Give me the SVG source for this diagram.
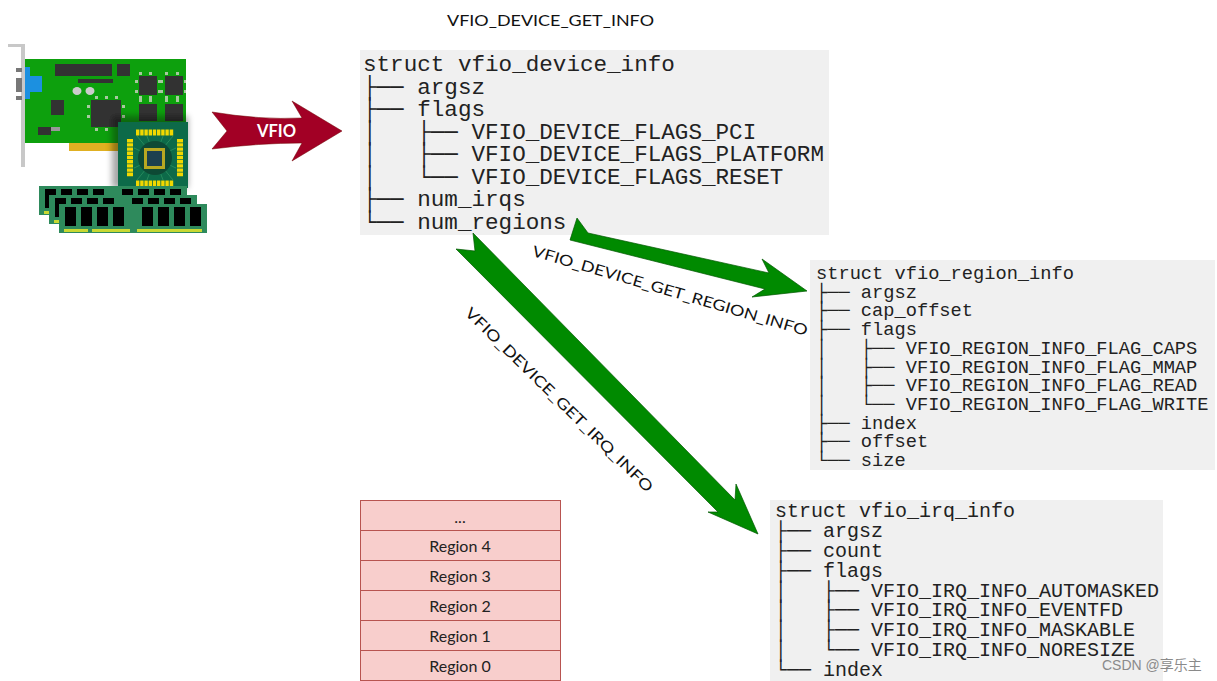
<svg xmlns="http://www.w3.org/2000/svg" width="1217" height="681" viewBox="0 0 1217 681">
<style>
.bg{fill:#f0f0f0}
.t{font-family:"Liberation Mono","DejaVu Sans Mono",monospace;fill:#222}
.d{font-size:22.6px}.r{font-size:18.7px}.i{font-size:20px}
.h{font-family:"Lato","Open Sans",sans-serif;font-size:15px;fill:#111}
.ra{fill:#f8cecc;stroke:#b85450;stroke-width:1}
.rt{font-family:"Lato","Open Sans",sans-serif;font-size:16px;fill:#222;text-anchor:middle}
.g{fill:#008a00;stroke:#005700;stroke-width:.7}
.cb{fill:#333}
.rs{fill:#2f8a5c}
.rk{fill:#000}
.rg{fill:#c8d832}
</style>
<defs>
<filter id="sh" x="-20%" y="-20%" width="140%" height="140%"><feGaussianBlur stdDeviation="3"/></filter>
<filter id="soft" x="-5%" y="-5%" width="110%" height="110%"><feGaussianBlur stdDeviation=".5"/></filter>
<g id="ramc">
<rect x="0" y="0" width="148" height="29" class="rs"/>
<g class="rk"><rect x="6" y="3" width="11" height="19"/><rect x="22" y="3" width="11" height="19"/><rect x="38" y="3" width="11" height="19"/><rect x="54" y="3" width="11" height="19"/><rect x="83" y="3" width="11" height="19"/><rect x="99" y="3" width="11" height="19"/><rect x="115" y="3" width="11" height="19"/><rect x="131" y="3" width="11" height="19"/></g>
<rect x="5" y="25" width="24" height="3" class="rg"/><rect x="33" y="25" width="38" height="3" class="rg"/><rect x="78" y="25" width="65" height="3" class="rg"/>
</g>
</defs>
<rect width="1217" height="681" fill="#fff"/>

<g id="hardware" filter="url(#soft)">
<path d="M8 44H25V167H21V47H8Z" fill="#c8c8c8"/>
<rect x="69" y="143" width="52" height="8" fill="#e0b020"/>
<rect x="25" y="59" width="161" height="84" fill="#0ca00c"/>
<rect x="25" y="67" width="5" height="32" fill="#1e90e0"/><rect x="30" y="76" width="12" height="16" fill="#1e90e0"/>
<rect x="16" y="68" width="6" height="4" fill="#777"/><rect x="16" y="78" width="6" height="14" fill="#777"/><rect x="16" y="96" width="6" height="4" fill="#777"/>
<rect x="55" y="64" width="57" height="12" class="cb"/><rect x="117" y="64" width="13" height="12" class="cb"/>
<rect x="78" y="79" width="35" height="4" class="cb"/>
<ellipse cx="77" cy="91" rx="4.5" ry="4" fill="#ccc"/><ellipse cx="90" cy="91" rx="4.5" ry="4" fill="#ccc"/>
<rect x="51" y="100" width="13" height="15" class="cb"/><rect x="38" y="127" width="13" height="8" class="cb"/><rect x="51" y="127" width="9" height="4" fill="#999"/>
<rect x="91" y="100" width="30" height="27" class="cb"/>
<rect x="139" y="76" width="18" height="19" class="cb"/><rect x="165" y="76" width="18" height="19" class="cb"/>
<rect x="139" y="104" width="18" height="17" class="cb"/><rect x="165" y="104" width="18" height="17" class="cb"/>
<g fill="#a8c8a0"><rect x="139" y="72" width="3" height="3"/><rect x="149" y="72" width="3" height="3"/><rect x="165" y="72" width="3" height="3"/><rect x="176" y="72" width="3" height="3"/><rect x="139" y="96" width="3" height="6"/><rect x="149" y="96" width="3" height="6"/><rect x="165" y="96" width="3" height="6"/><rect x="176" y="96" width="3" height="6"/><rect x="95" y="96" width="3" height="3"/><rect x="105" y="96" width="3" height="3"/><rect x="115" y="96" width="3" height="3"/><rect x="135" y="80" width="3" height="3"/><rect x="135" y="90" width="3" height="3"/><rect x="158" y="80" width="5" height="3"/><rect x="158" y="90" width="5" height="3"/><rect x="184" y="80" width="2" height="3"/><rect x="184" y="90" width="2" height="3"/><rect x="87" y="105" width="3" height="3"/><rect x="87" y="115" width="3" height="3"/><rect x="122" y="105" width="3" height="3"/><rect x="122" y="115" width="3" height="3"/><rect x="95" y="128" width="3" height="3"/><rect x="105" y="128" width="3" height="3"/></g>
<rect x="112" y="116" width="76" height="72" fill="#000" opacity=".35" filter="url(#sh)"/>
<rect x="118" y="122" width="70" height="66" fill="#0b6b48"/>
<g stroke="#3a9a6a" stroke-width=".6" fill="none"><path d="M155 158L137 136M155 158L147 136M155 158L163 136M155 158L173 136M155 158L137 180M155 158L147 180M155 158L163 180M155 158L173 180M155 158L134 148M155 158L134 168M155 158L176 148M155 158L176 168"/></g>
<g fill="none" stroke="#f2d800" stroke-dasharray="3.4 .8"><path d="M136 132.500H174" stroke-width="6"/><path d="M136 183.500H174" stroke-width="6"/><path d="M130 139V177" stroke-width="6"/><path d="M180 139V177" stroke-width="6"/></g>
<circle cx="155" cy="158" r="17" fill="#0a4a34"/>
<rect x="144" y="148" width="21" height="21" fill="#b8a820"/><rect x="147" y="151" width="15" height="15" fill="#1f3f50"/>
<use href="#ramc" x="39" y="186"/><use href="#ramc" x="49" y="195"/><use href="#ramc" x="59" y="204"/>
</g>

<g id="vfio_device_info">
<rect class="bg" x="360" y="50" width="469" height="185"/>
<g class="t d">
<text x="363" y="71">struct vfio_device_info</text>
<text x="363" y="93.6">├── argsz</text>
<text x="363" y="116.1">├── flags</text>
<text x="363" y="138.7">│&#160;&#160;&#160;├── VFIO_DEVICE_FLAGS_PCI</text>
<text x="363" y="161.3">│&#160;&#160;&#160;├── VFIO_DEVICE_FLAGS_PLATFORM</text>
<text x="363" y="183.9">│&#160;&#160;&#160;└── VFIO_DEVICE_FLAGS_RESET</text>
<text x="363" y="206.4">├── num_irqs</text>
<text x="363" y="229">└── num_regions</text>
</g></g>

<g id="vfio_region_info">
<rect class="bg" x="810" y="260" width="405" height="210"/>
<g class="t r">
<text x="816" y="279">struct vfio_region_info</text>
<text x="816" y="297.7">├── argsz</text>
<text x="816" y="316.4">├── cap_offset</text>
<text x="816" y="335.1">├── flags</text>
<text x="816" y="353.8">│&#160;&#160;&#160;├── VFIO_REGION_INFO_FLAG_CAPS</text>
<text x="816" y="372.5">│&#160;&#160;&#160;├── VFIO_REGION_INFO_FLAG_MMAP</text>
<text x="816" y="391.2">│&#160;&#160;&#160;├── VFIO_REGION_INFO_FLAG_READ</text>
<text x="816" y="409.9">│&#160;&#160;&#160;└── VFIO_REGION_INFO_FLAG_WRITE</text>
<text x="816" y="428.6">├── index</text>
<text x="816" y="447.3">├── offset</text>
<text x="816" y="466">└── size</text>
</g></g>

<g id="vfio_irq_info">
<rect class="bg" x="770" y="500" width="393" height="181"/>
<g class="t i">
<text x="775" y="517">struct vfio_irq_info</text>
<text x="775" y="536.9">├── argsz</text>
<text x="775" y="556.8">├── count</text>
<text x="775" y="576.6">├── flags</text>
<text x="775" y="596.5">│&#160;&#160;&#160;├── VFIO_IRQ_INFO_AUTOMASKED</text>
<text x="775" y="616.4">│&#160;&#160;&#160;├── VFIO_IRQ_INFO_EVENTFD</text>
<text x="775" y="636.3">│&#160;&#160;&#160;├── VFIO_IRQ_INFO_MASKABLE</text>
<text x="775" y="656.1">│&#160;&#160;&#160;└── VFIO_IRQ_INFO_NORESIZE</text>
<text x="775" y="676">└── index</text>
</g></g>

<g id="connectors">
<path d="M212 112Q260 120 302 118L292 101L342 131L292 161L302 143Q260 143 212 149L227 131Z" fill="#a20025" stroke="#6f0000" stroke-width=".5"/>
<polygon class="g" points="577,218 588,233 769,273 762,259 807,291 752,297 765,289 570,240"/>
<polygon class="g" points="473,233 735,500 736,484 758,534 708,512 718,512 456,249 475,251"/>
</g>

<g id="label-vfio"><text x="276.500" y="136.500" font-family="Lato,'Open Sans',sans-serif" font-size="16.500" font-weight="700" fill="#fff" text-anchor="middle">VFIO</text></g>
<g id="label-get-info"><text class="h" x="447" y="26" textLength="207" lengthAdjust="spacingAndGlyphs">VFIO_DEVICE_GET_INFO</text></g>
<g id="label-get-region"><text class="h" transform="translate(670 291) rotate(16.300)" x="-143" y="5" textLength="286" lengthAdjust="spacingAndGlyphs">VFIO_DEVICE_GET_REGION_INFO</text></g>
<g id="label-get-irq"><text class="h" transform="translate(559 400) rotate(44.400)" x="-128" y="5" textLength="256" lengthAdjust="spacingAndGlyphs">VFIO_DEVICE_GET_IRQ_INFO</text></g>

<g id="regions">
<g id="region-more"><rect class="ra" x="360.500" y="500.500" width="200" height="30"/><text class="rt" x="460" y="523">...</text></g>
<g id="region-4"><rect class="ra" x="360.500" y="530.500" width="200" height="30"/><text class="rt" x="460" y="552">Region 4</text></g>
<g id="region-3"><rect class="ra" x="360.500" y="560.500" width="200" height="30"/><text class="rt" x="460" y="582">Region 3</text></g>
<g id="region-2"><rect class="ra" x="360.500" y="590.500" width="200" height="30"/><text class="rt" x="460" y="612">Region 2</text></g>
<g id="region-1"><rect class="ra" x="360.500" y="620.500" width="200" height="30"/><text class="rt" x="460" y="642">Region 1</text></g>
<g id="region-0"><rect class="ra" x="360.500" y="650.500" width="200" height="30"/><text class="rt" x="460" y="672">Region 0</text></g>
</g>

<g id="watermark"><text x="1102" y="670" font-family="'Liberation Sans','Noto Sans CJK SC',sans-serif" font-size="14" fill="#8a8a8a">CSDN @享乐主</text></g>
</svg>
